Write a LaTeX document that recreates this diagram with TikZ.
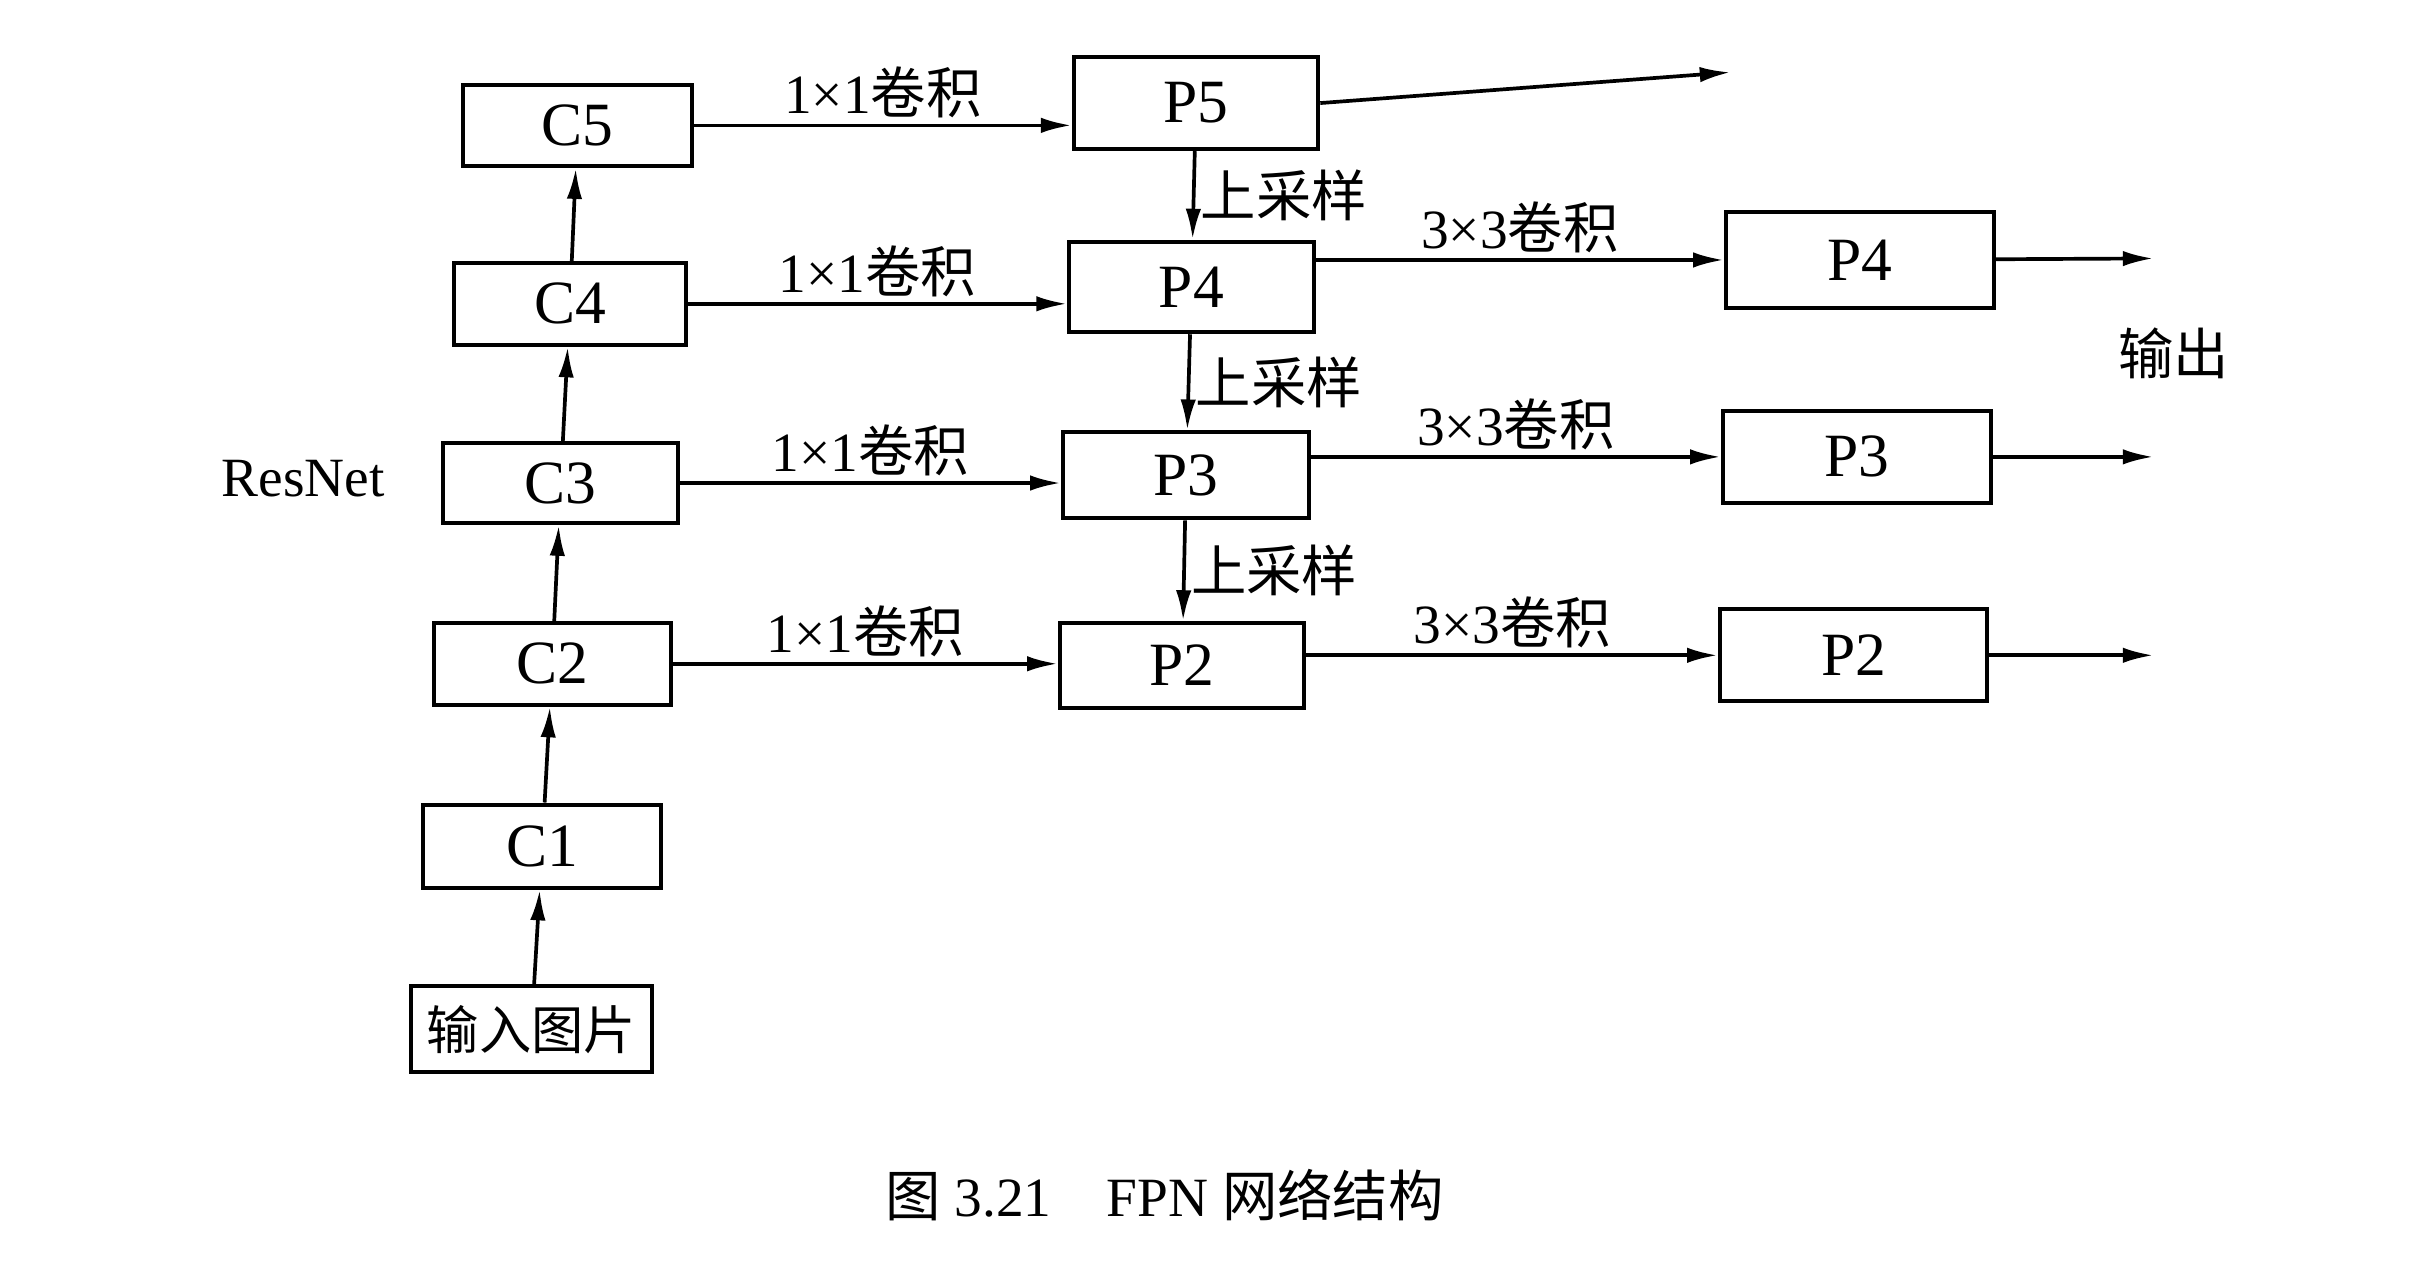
\documentclass[tikz,border=0pt]{standalone}
\usepackage{fontspec}
\setmainfont{Liberation Serif}
\newfontfamily\cjk{Noto Sans CJK SC}
\usetikzlibrary{arrows.meta}
\begin{document}
\begin{tikzpicture}[x=1pt,y=-1pt,
  bx/.style={draw,line width=2.6pt,inner sep=0pt,font=\fontsize{40}{44}\selectfont},
  ar/.style={line width=2.4pt,-{Latex[length=20pt,width=10pt]}},
  lb/.style={font=\fontsize{36}{40}\selectfont}]
\useasboundingbox[fill=white] (0,0) rectangle (1568,832);
\newcommand\bxat[6]{\node[bx,minimum width=#4-#2,minimum height=#5-#3] (#1) at ({(#2+#4)/2},{(#3+#5)/2}) {#6};}
\bxat{C5}{301}{55}{450}{108}{C5}
\bxat{C4}{295}{171}{446}{224}{C4}
\bxat{C3}{288}{288}{441}{340}{C3}
\bxat{C2}{282}{405}{436}{458}{C2}
\bxat{C1}{275}{523}{430}{577}{C1}
\bxat{IN}{267}{641}{424}{697}{\cjk\fontsize{34}{38}\selectfont 输入图片}
\bxat{P5}{698}{37}{857}{97}{P5}
\bxat{P4}{695}{157}{854}{216}{P4}
\bxat{P3}{691}{281}{851}{337}{P3}
\bxat{P2}{689}{405}{848}{460}{P2}
\bxat{Q4}{1122}{138}{1296}{200}{P4}
\bxat{Q3}{1120}{267}{1294}{327}{P3}
\bxat{Q2}{1118}{396}{1292}{456}{P2}
\coordinate (o5) at (1125,47);
\coordinate (o4) at (1400,168);
\coordinate (o3) at (1400,297);
\coordinate (o2) at (1400,426);
\draw[ar] (IN) -- (C1);
\draw[ar] (C1) -- (C2);
\draw[ar] (C2) -- (C3);
\draw[ar] (C3) -- (C4);
\draw[ar] (C4) -- (C5);
\draw[ar] (C5) -- node[lb,above]{1×1\cjk 卷积} (P5.west|-C5);
\draw[ar] (C4) -- node[lb,above]{1×1\cjk 卷积} (P4.west|-C4);
\draw[ar] (C3) -- node[lb,above]{1×1\cjk 卷积} (P3.west|-C3);
\draw[ar] (C2) -- node[lb,above]{1×1\cjk 卷积} (P2.west|-C2);
\draw[ar] (P5) -- node[lb,right,font=\cjk\fontsize{36}{40}\selectfont]{上采样} (P4);
\draw[ar] (P4) -- node[lb,right,font=\cjk\fontsize{36}{40}\selectfont]{上采样} (P3);
\draw[ar] (P3) -- node[lb,right,font=\cjk\fontsize{36}{40}\selectfont]{上采样} (P2);
\draw[ar] (P4.east|-Q4) -- node[lb,above]{3×3\cjk 卷积} (Q4);
\draw[ar] (P3.east|-Q3) -- node[lb,above]{3×3\cjk 卷积} (Q3);
\draw[ar] (P2.east|-Q2) -- node[lb,above]{3×3\cjk 卷积} (Q2);
\draw[ar] (P5.east) -- (o5);
\draw[ar] (Q4) -- (o4);
\draw[ar] (Q3) -- (o3);
\draw[ar] (Q2) -- (o2);
\node[lb,font=\cjk\fontsize{36}{40}\selectfont] (out) at (1413,230) {输出};
\node[lb] (rn) at (197,311) {ResNet};
\node[lb] (cap) at (757,777) {{\cjk 图} 3.21\quad FPN {\cjk 网络结构}};
\end{tikzpicture}
\end{document}
